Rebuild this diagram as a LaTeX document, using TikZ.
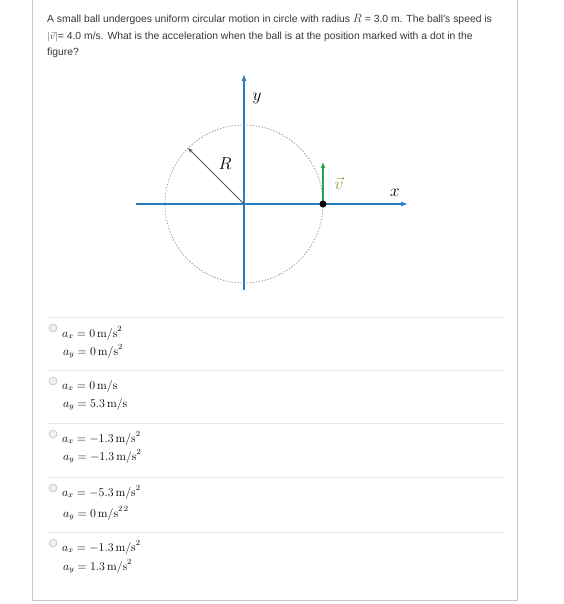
\documentclass[tikz,border=0pt]{standalone}
\usepackage{fontspec}
\newfontfamily\qfont{Liberation Sans}
\usetikzlibrary{arrows.meta}
\definecolor{axisblue}{RGB}{38,125,195}
\definecolor{velgreen}{RGB}{30,165,85}
\definecolor{vlabel}{RGB}{135,165,55}
\definecolor{framegray}{RGB}{200,200,200}
\definecolor{sepgray}{RGB}{232,232,232}
\definecolor{radiogray}{RGB}{185,185,185}
\definecolor{textgray}{RGB}{55,55,55}
\tikzset{
  qtext/.style={anchor=base west, inner sep=0pt, font=\qfont\fontsize{10.4}{12}\selectfont, text=textgray},
  opt/.style={anchor=base west, inner sep=0pt, font=\fontsize{12}{14}\selectfont},
  radio/.style={circle, minimum size=8bp, inner sep=0pt, draw=radiogray, line width=0.5bp, fill=black!6},
  axis/.style={draw=axisblue, line width=1.3bp, -{Latex[length=7bp,width=5bp]}},
  sep/.style={draw=sepgray, line width=1bp},
  lab/.style={font=\fontsize{18}{20}\selectfont, inner sep=0pt}
}
\begin{document}
\begin{tikzpicture}[x=1bp,y=-1bp]
\useasboundingbox (0,0) rectangle (564,604);
\fill[white] (0,0) rectangle (564,604);
% frame
\draw[framegray, line width=1bp] (32,0) -- (32,600) -- (517,600) -- (517,0);
% question
\node[qtext] (q1) at (47,23) {A small ball undergoes uniform circular motion in circle with radius {\normalfont\fontsize{13}{13}\selectfont$R$} = 3.0 m. The ball's speed is};
\node[qtext] (q2) at (47,40) {{\normalfont$|\vec{v}|$}= 4.0 m/s. What is the acceleration when the ball is at the position marked with a dot in the};
\node[qtext] (q3) at (47,56) {figure?};
% figure
\coordinate (O) at (244,204);
\coordinate (xs) at (136,204);
\coordinate (xe) at (408,204);
\coordinate (ys) at (244,290);
\coordinate (ye) at (244,74);
\draw[gray!90, line width=0.6bp, dash pattern=on 1.5bp off 1.5bp] (O) circle[radius=79];
\draw[axis] (xs) -- (xe);
\draw[axis] (ys) -- (ye);
\draw[black!65, line width=0.8bp, -{Stealth[length=5bp,width=4bp]}] (O) -- ++(-55.9,-55.9) coordinate (Rt);
\coordinate (P) at (323,204);
\coordinate (Vt) at (323,162);
\draw[velgreen, line width=1.5bp, -{Latex[length=6bp,width=5bp]}] (P) -- (Vt);
\node[circle, fill=black, minimum size=7bp, inner sep=0pt] (dot) at (P) {};
\node[lab] (ylab) at (257,98) {$y$};
\node[lab] (xlab) at (395,193) {$x$};
\node[lab] (Rlab) at (225,164) {$R$};
\node[lab, text=vlabel] (vlab) at (339,183) {$\vec{v}$};
% separators
\foreach \s in {317,370,423,477,532} \draw[sep] (48,\s) -- (505,\s);
% options
\node[radio] (r1) at (53,328) {};
\node[opt] (o1x) at (62,337) {$a_x = 0\,\mathrm{m/s}^2$};
\node[opt] (o1y) at (63,355) {$a_y = 0\,\mathrm{m/s}^2$};
\node[radio] (r2) at (53,381) {};
\node[opt] (o2x) at (62,389) {$a_x = 0\,\mathrm{m/s}$};
\node[opt] (o2y) at (63,407) {$a_y = 5.3\,\mathrm{m/s}$};
\node[radio] (r3) at (53,434) {};
\node[opt] (o3x) at (62,442) {$a_x = -1.3\,\mathrm{m/s}^2$};
\node[opt] (o3y) at (63,460) {$a_y = -1.3\,\mathrm{m/s}^2$};
\node[radio] (r4) at (53,488) {};
\node[opt] (o4x) at (62,496) {$a_x = -5.3\,\mathrm{m/s}^2$};
\node[opt] (o4y) at (63,517) {$a_y = 0\,\mathrm{m/s}^{2\,2}$};
\node[radio] (r5) at (53,543) {};
\node[opt] (o5x) at (62,551) {$a_x = -1.3\,\mathrm{m/s}^2$};
\node[opt] (o5y) at (63,570) {$a_y = 1.3\,\mathrm{m/s}^2$};
\end{tikzpicture}
\end{document}
